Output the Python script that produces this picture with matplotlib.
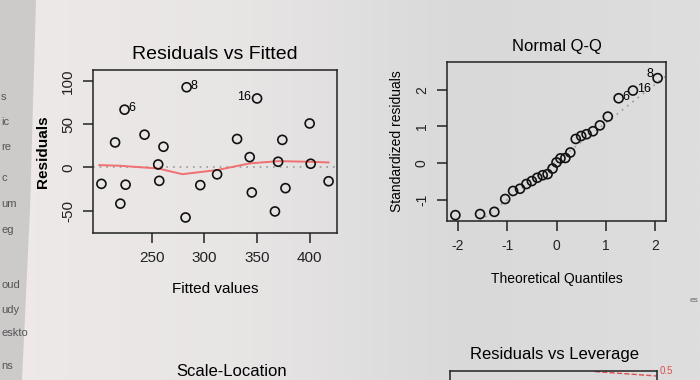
import numpy as np
import matplotlib
matplotlib.use('Agg')
import matplotlib.pyplot as plt
from matplotlib.patches import Polygon

plt.rcParams['font.family'] = ['Liberation Sans', 'DejaVu Sans']
plt.rcParams['axes.unicode_minus'] = False

# residuals vs fitted
fitted = [202, 215, 220, 224, 225, 243, 256, 257, 261, 282, 283, 296,
          312, 331, 343, 345, 350, 367, 370, 374, 377, 400, 401, 418]
resid = [-19, 29, -42, 67, -20, 38, 3.5, -15.5, 24, -58, 93, -20.5,
         -8, 33, 12, -29, 80, -51, 6.6, 32, -24, 51, 4.3, -16]
resid_labels = {3: '6', 10: '8', 16: '16'}

# smoother (red line)
smooth_x = [200, 219, 256, 279, 312, 343, 370, 401, 418]
smooth_y = [2.7, 2.0, -1.2, -7.8, -3.0, 4.7, 7.3, 6.6, 5.8]

# normal q-q
theo_q = [-2.05, -1.55, -1.26, -1.04, -0.88, -0.74, -0.61, -0.50, -0.39,
          -0.28, -0.18, -0.08, 0.0, 0.08, 0.18, 0.28, 0.39, 0.50, 0.61,
          0.74, 0.88, 1.04, 1.26, 1.55, 2.05]
std_resid = [-1.42, -1.39, -1.33, -0.98, -0.76, -0.70, -0.57, -0.49, -0.40,
             -0.33, -0.30, -0.15, 0.02, 0.13, 0.14, 0.29, 0.66, 0.74, 0.79,
             0.87, 1.03, 1.27, 1.77, 1.98, 2.32]
qq_labels = {22: '6', 23: '16', 24: '8'}
qq_intercept = 0.05
qq_slope = 1.05

# bits of the screen's side bar that show in the photo
side_txt = ['s', 'ic', 're', 'c', 'um', 'eg', 'oud', 'udy', 'eskto', 'ns']
side_y = [97, 122, 147, 178, 204, 230, 285, 310, 333, 366]

W, H = 700, 380
fig = plt.figure(figsize=(7, 3.8), dpi=100)

# photo background: lighter on the left, greyer on the right
bg = fig.add_axes([0, 0, 1, 1], zorder=-10)
grad = np.linspace(0, 1, 256).reshape(1, -1)
bg.imshow(grad, aspect='auto', extent=[0, 1, 0, 1],
          cmap=matplotlib.colors.LinearSegmentedColormap.from_list(
              'photo', ['#efe9e9', '#e8e5e5', '#d9d9d9', '#dedede']))
bg.set_xlim(0, 1)
bg.set_ylim(0, 1)
bg.axis('off')
bg.add_patch(Polygon([[0, 1], [36 / W, 1], [30 / W, 0.45], [22 / W, 0], [0, 0]],
                     closed=True, facecolor='#cdcaca', edgecolor='none'))
for t, yy in zip(side_txt, side_y):
    bg.text(1 / W, 1 - yy / H, t, fontsize=8, color='#555555',
            ha='left', va='center')
bg.text(698 / W, 1 - 300 / H, 'es', fontsize=6, color='#666666',
        ha='right', va='center')


def r_style(ax):
    ax.set_facecolor('none')
    for s in ax.spines.values():
        s.set_linewidth(1.1)
        s.set_color('#222222')
    ax.tick_params(direction='out', length=7, width=1.1, colors='#222222',
                   labelsize=11, pad=6)
    ax.tick_params(axis='y', labelrotation=90)
    for lab in ax.get_yticklabels():
        lab.set_va('center')


# --- Residuals vs Fitted ---
ax1 = fig.add_axes([93 / W, 1 - 233 / H, (337 - 93) / W, (233 - 70) / H])
ax1.axhline(0, color='#999999', ls=(0, (1, 3)), lw=1.2)
ax1.plot(smooth_x, smooth_y, color='#f07070', lw=1.4)
ax1.scatter(fitted, resid, s=42, facecolors='none', edgecolors='#111111',
            linewidths=1.2, zorder=3)
mx = np.mean(fitted)
for i, t in resid_labels.items():
    if fitted[i] < mx:
        ax1.annotate(t, (fitted[i], resid[i]), xytext=(3, 1),
                     textcoords='offset points', ha='left', va='center',
                     fontsize=9)
    else:
        ax1.annotate(t, (fitted[i], resid[i]), xytext=(-4, 1),
                     textcoords='offset points', ha='right', va='center',
                     fontsize=9)
ax1.set_xlim(194, 426)
ax1.set_ylim(-76, 113)
ax1.set_xticks([250, 300, 350, 400])
ax1.set_yticks([-50, 0, 50, 100])
r_style(ax1)
ax1.set_title('Residuals vs Fitted', fontsize=14, pad=8)
ax1.set_xlabel('Fitted values', fontsize=11, labelpad=12)
ax1.set_ylabel('Residuals', fontsize=11, fontweight='bold', labelpad=8)

# --- Normal Q-Q ---
ax2 = fig.add_axes([447 / W, 1 - 221 / H, (666 - 447) / W, (221 - 62) / H])
ax2.axline((0, qq_intercept), slope=qq_slope, color='#999999',
           ls=(0, (1, 3)), lw=1.2)
ax2.scatter(theo_q, std_resid, s=42, facecolors='none', edgecolors='#111111',
            linewidths=1.2, zorder=3)
for i, t in qq_labels.items():
    if i < 24:
        ax2.annotate(t, (theo_q[i], std_resid[i]), xytext=(3, 1),
                     textcoords='offset points', ha='left', va='center',
                     fontsize=9)
    else:
        ax2.annotate(t, (theo_q[i], std_resid[i]), xytext=(-3, 3),
                     textcoords='offset points', ha='right', va='center',
                     fontsize=9)
ax2.set_xlim(-2.22, 2.22)
ax2.set_ylim(-1.58, 2.76)
ax2.set_xticks([-2, -1, 0, 1, 2])
ax2.set_yticks([-1, 0, 1, 2])
r_style(ax2)
ax2.tick_params(labelsize=10)
ax2.set_title('Normal Q-Q', fontsize=12, pad=8)
ax2.set_xlabel('Theoretical Quantiles', fontsize=10, labelpad=14)
ax2.set_ylabel('Standardized residuals', fontsize=10, labelpad=8)

# --- bottom row, cut off by the photo ---
fig.text(232 / W, 1 - 371 / H, 'Scale-Location', fontsize=12,
         ha='center', va='center')
fig.text(554 / W, 1 - 355 / H, 'Residuals vs Leverage', fontsize=12,
         ha='center', va='center')
ax3 = fig.add_axes([450 / W, -0.05, (657 - 450) / W, 0.05 + (380 - 371) / H])
ax3.set_facecolor('none')
ax3.set_xticks([])
ax3.set_yticks([])
for s in ax3.spines.values():
    s.set_linewidth(1.1)
    s.set_color('#222222')
ax3.set_xlim(0, 1)
ax3.set_ylim(0, 1)
ax3.plot([0.7, 1.0], [0.98, 0.82], color='#e05050', ls='--', lw=1)
fig.text(660 / W, 1 - 371 / H, '0.5', fontsize=7, color='#e05050',
         ha='left', va='center')

fig.savefig('out.png', dpi=100)
